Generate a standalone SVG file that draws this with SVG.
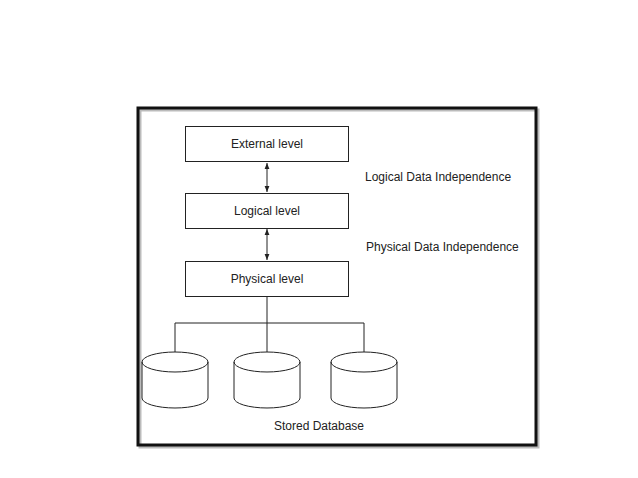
<svg xmlns="http://www.w3.org/2000/svg" width="638" height="478" viewBox="0 0 638 478">
<defs>
<style>
.box{fill:#fff;stroke:#222;stroke-width:1}
.ln{fill:none;stroke:#222;stroke-width:1}
.t{font-family:"Liberation Sans",Arial,sans-serif;font-size:12px;fill:#222}
.cyl{fill:#fff;stroke:#222;stroke-width:1}
</style>
<marker id="ah" viewBox="0 0 10 10" refX="10" refY="5" markerWidth="6" markerHeight="6" orient="auto-start-reverse">
<path d="M0,1 L10,5 L0,9 z" fill="#222"/>
</marker>
</defs>
<rect width="638" height="478" fill="#fff"/>
<g id="frame">
<rect x="140" y="110" width="398" height="337" fill="none" stroke="#bbb" stroke-width="3"/>
<rect x="138" y="108" width="398" height="337" fill="none" stroke="#111" stroke-width="3"/>
</g>
<g id="connectors">
<line class="ln" x1="267" y1="163" x2="267" y2="192" marker-start="url(#ah)" marker-end="url(#ah)"/>
<line class="ln" x1="267" y1="229" x2="267" y2="260" marker-start="url(#ah)" marker-end="url(#ah)"/>
<polyline class="ln" points="267,296 267,352"/>
<polyline class="ln" points="175,352 175,323 364,323 364,352"/>
</g>
<g id="external">
<rect class="box" x="185.5" y="126.5" width="163" height="35"/>
<text class="t" x="267" y="148" text-anchor="middle">External level</text>
</g>
<g id="logical">
<rect class="box" x="185.5" y="193.5" width="163" height="35"/>
<text class="t" x="267" y="215" text-anchor="middle">Logical level</text>
</g>
<g id="physical">
<rect class="box" x="185.5" y="261.5" width="163" height="35"/>
<text class="t" x="267" y="283" text-anchor="middle">Physical level</text>
</g>
<g id="lbl-logical">
<text class="t" x="365" y="181">Logical Data Independence</text>
</g>
<g id="lbl-physical">
<text class="t" x="366" y="251">Physical Data Independence</text>
</g>
<g id="db1">
<path class="cyl" d="M142,362 A33,10 0 0 1 208,362 L208,398 A33,10 0 0 1 142,398 Z"/>
<path class="ln" d="M142,362 A33,10 0 0 0 208,362"/>
</g>
<g id="db2">
<path class="cyl" d="M234,362 A33,10 0 0 1 300,362 L300,398 A33,10 0 0 1 234,398 Z"/>
<path class="ln" d="M234,362 A33,10 0 0 0 300,362"/>
</g>
<g id="db3">
<path class="cyl" d="M331,362 A33,10 0 0 1 397,362 L397,398 A33,10 0 0 1 331,398 Z"/>
<path class="ln" d="M331,362 A33,10 0 0 0 397,362"/>
</g>
<g id="stored">
<text class="t" x="319" y="430" text-anchor="middle">Stored Database</text>
</g>
</svg>
